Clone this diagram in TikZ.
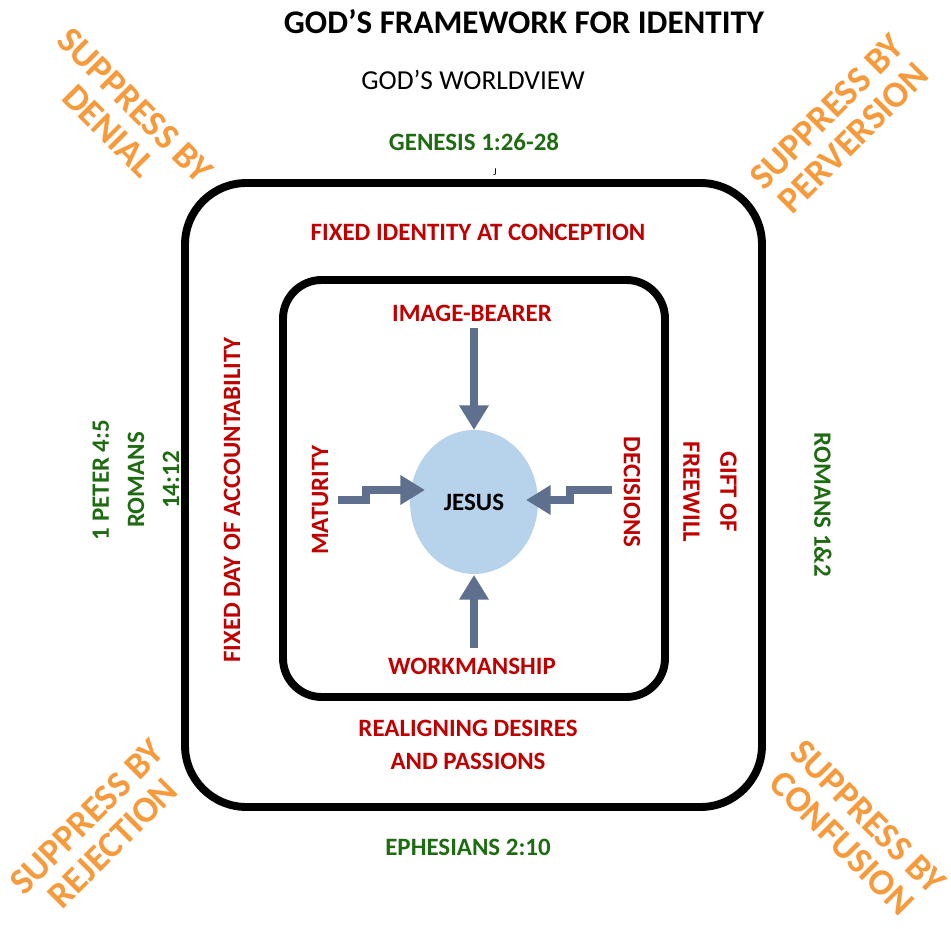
\documentclass[tikz,border=0pt]{standalone}
\usepackage{fontspec}
\setmainfont{Carlito}
\usetikzlibrary{arrows.meta}
\definecolor{redt}{HTML}{C00000}
\definecolor{greent}{HTML}{1E6B12}
\definecolor{oranget}{HTML}{F79A3C}
\definecolor{arrowc}{HTML}{5F6F8E}
\definecolor{blob}{HTML}{B7D3EC}
\begin{document}
\begin{tikzpicture}[x=0.02cm,y=-0.02cm,
  red/.style={text=redt,font=\bfseries\fontsize{14.2}{16}\selectfont,align=center},
  grn/.style={text=greent,font=\bfseries\fontsize{14.2}{22}\selectfont,align=center},
  org/.style={text=oranget,font=\bfseries\fontsize{21}{21}\selectfont,align=center},
  box/.style={line width=4.5pt,rounded corners=#1},
  arr/.style={arrowc,line width=4pt,-{Triangle[length=14pt,width=16pt]}}]
\useasboundingbox (0,0) rectangle (951,929);
\draw[box=35pt] (185,183) rectangle (762,807);
\draw[box=22pt] (283,280) rectangle (665,697);
\node (title) at (524,22) {\bfseries\fontsize{18.8}{20}\selectfont GOD’S FRAMEWORK FOR IDENTITY};
\node (wv) at (473,80) {\fontsize{15.6}{18}\selectfont GOD’S WORLDVIEW};
\node[grn] (gen) at (474,142) {GENESIS 1:26-28};
\node[font=\fontsize{6}{7}\selectfont] (j) at (495,172) {J};
\node[red] (fic) at (478,232) {FIXED IDENTITY AT CONCEPTION};
\node[red] (ib) at (472,313) {IMAGE-BEARER};
\node[red] (wm) at (472,666) {WORKMANSHIP};
\node[red,font=\bfseries\fontsize{14.2}{19}\selectfont] (rd) at (468,745) {REALIGNING DESIRES\\AND PASSIONS};
\node[grn] (eph) at (468,847) {EPHESIANS 2:10};
\node[red,rotate=90] (fda) at (232,500) {FIXED DAY OF ACCOUNTABILITY};
\node[red,rotate=90] (mat) at (320,500) {MATURITY};
\node[red,rotate=-90] (dec) at (632,492) {DECISIONS};
\node[red,rotate=-90,font=\bfseries\fontsize{14.2}{21}\selectfont] (gif) at (710,492) {GIFT OF\\FREEWILL};
\node[grn,rotate=-90] (rom) at (823,505) {ROMANS 1\&2};
\node[grn,rotate=90,font=\bfseries\fontsize{14.2}{20}\selectfont] (pet) at (136,480) {1 PETER 4:5\\ROMANS\\14:12};
\node[org,rotate=-45] (den) at (122,118) {SUPPRESS BY\\DENIAL};
\node[org,rotate=45] (per) at (840,125) {SUPPRESS BY\\PERVERSION};
\node[org,rotate=45] (rej) at (100,830) {SUPPRESS BY\\REJECTION};
\node[org,rotate=-45] (con) at (855,830) {SUPPRESS BY\\CONFUSION};
\fill[blob] (474,502) ellipse [x radius=64, y radius=72];
\node[font=\bfseries\fontsize{14.2}{16}\selectfont] (jesus) at (474,502) {JESUS};
\coordinate (t1) at (474,328); \coordinate (t2) at (474,430);
\coordinate (b1) at (474,648); \coordinate (b2) at (474,575);
\draw[arr] (t1) -- (t2);
\draw[arr] (b1) -- (b2);
\coordinate (l1) at (338,500); \coordinate (l2) at (425,490);
\coordinate (r1) at (612,490); \coordinate (r2) at (526,500);
\draw[arr] (l1) -- (366,500) -- (366,490) -- (l2);
\draw[arr] (r1) -- (570,490) -- (570,500) -- (r2);
\end{tikzpicture}
\end{document}
